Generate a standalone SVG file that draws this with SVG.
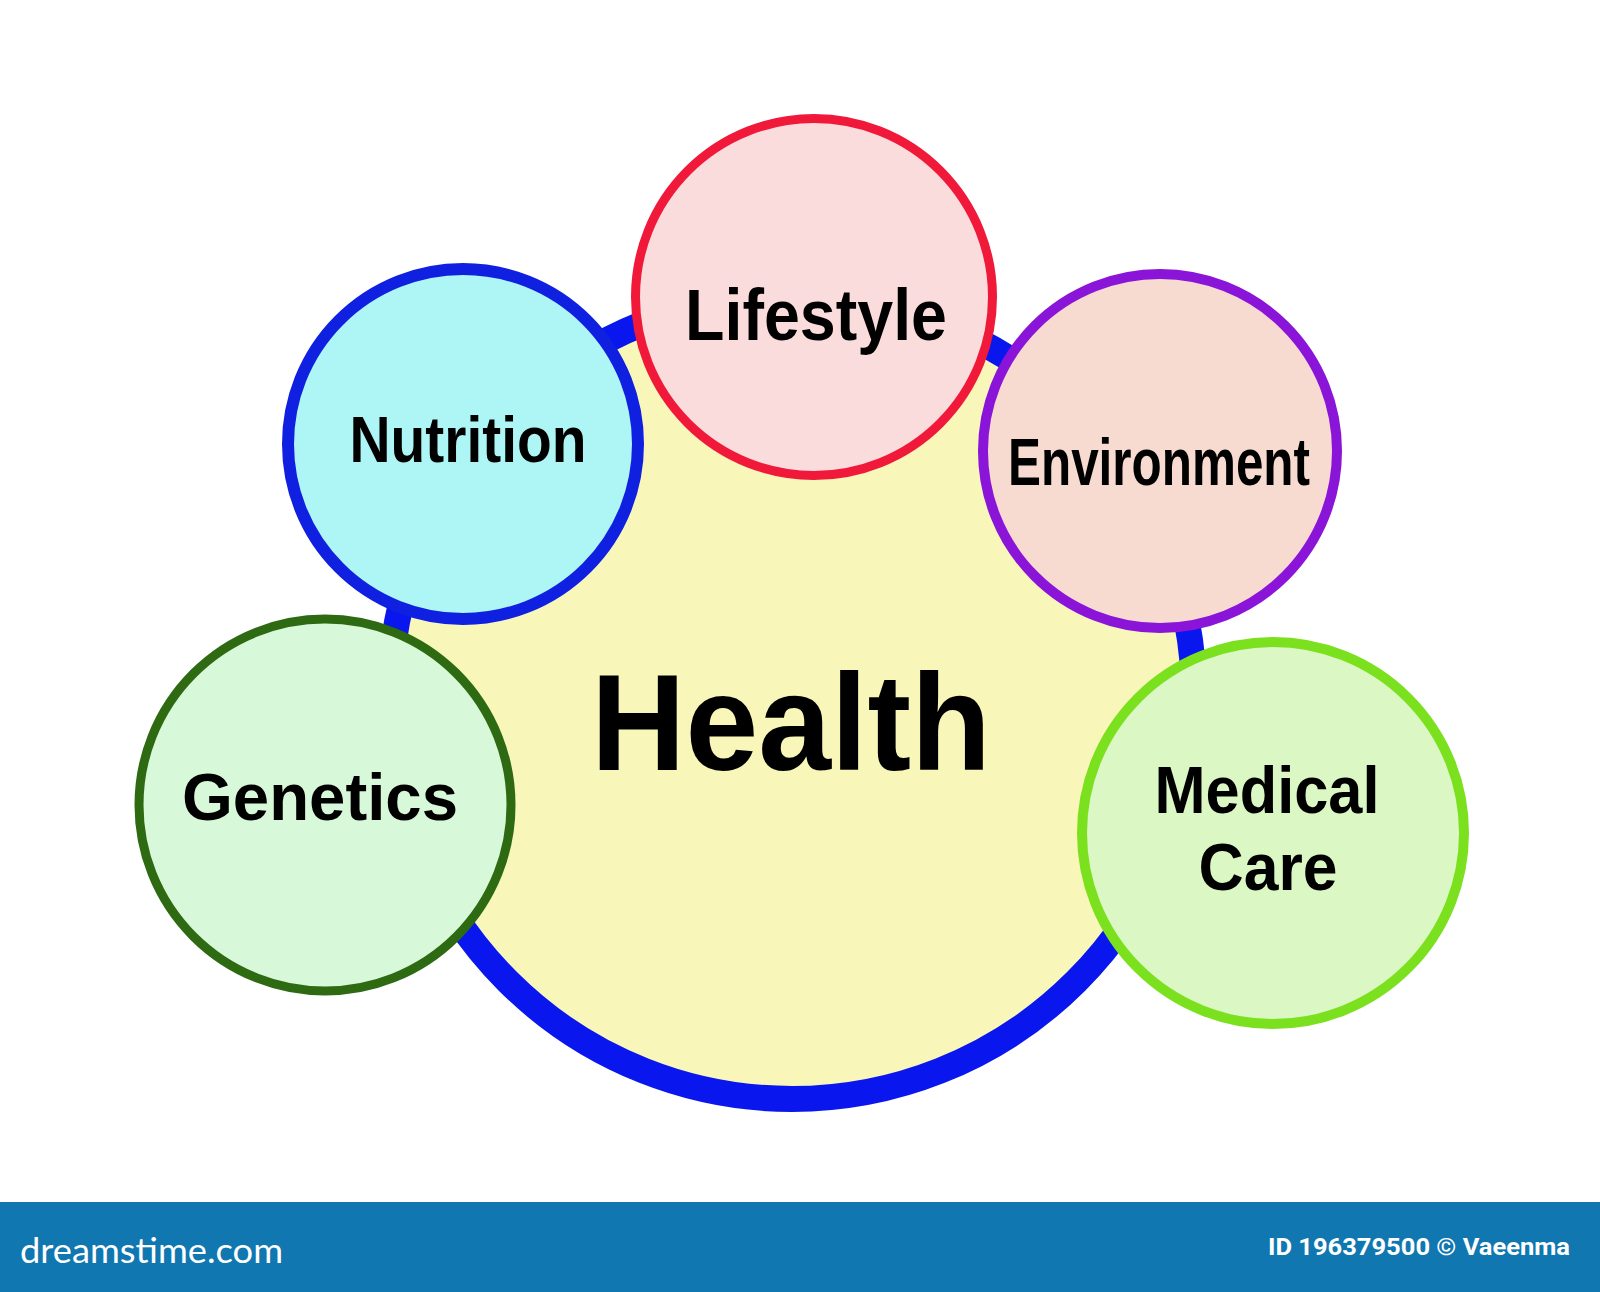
<svg xmlns="http://www.w3.org/2000/svg" width="1600" height="1292" viewBox="0 0 1600 1292">
<style>
.lbl{font-family:"Liberation Sans",Arial,sans-serif;font-weight:bold;fill:#000;text-anchor:middle}
.node{}
</style>
<rect x="0" y="0" width="1600" height="1292" fill="#ffffff"/>
<g id="health">
<circle cx="792" cy="697" r="402" fill="#F8F6B8" stroke="#0A16EE" stroke-width="26"/>
<text class="lbl" x="791" y="770" font-size="138" textLength="400" lengthAdjust="spacingAndGlyphs">Health</text>
</g>
<g id="genetics">
<circle cx="325" cy="805" r="186" fill="#D8F8DA" stroke="#2D6A12" stroke-width="9"/>
<text class="lbl" x="320" y="820" font-size="67" textLength="276" lengthAdjust="spacingAndGlyphs">Genetics</text>
</g>
<g id="nutrition">
<circle cx="463" cy="444" r="175" fill="#AEF5F5" stroke="#1020E0" stroke-width="12"/>
<text class="lbl" x="468" y="462" font-size="64" textLength="237" lengthAdjust="spacingAndGlyphs">Nutrition</text>
</g>
<g id="lifestyle">
<circle cx="814" cy="297" r="178.5" fill="#FADCDC" stroke="#F0193A" stroke-width="9"/>
<text class="lbl" x="816" y="340" font-size="72" textLength="262" lengthAdjust="spacingAndGlyphs">Lifestyle</text>
</g>
<g id="environment">
<circle cx="1160" cy="451" r="177" fill="#F7DBD0" stroke="#8A14D8" stroke-width="10"/>
<text class="lbl" x="1159" y="485" font-size="67" textLength="302" lengthAdjust="spacingAndGlyphs">Environment</text>
</g>
<g id="medical-care">
<circle cx="1273" cy="833" r="191" fill="#DAF7C4" stroke="#7BE01E" stroke-width="10"/>
<text class="lbl" x="1267" y="813" font-size="67" textLength="225" lengthAdjust="spacingAndGlyphs">Medical</text>
<text class="lbl" x="1268" y="890" font-size="67" textLength="139" lengthAdjust="spacingAndGlyphs">Care</text>
</g>
<g id="connectors"></g>
<g id="footer">
<rect x="0" y="1202" width="1600" height="90" fill="#1077B0"/>
<text x="20" y="1263" font-family="Lato,'Open Sans',sans-serif" font-size="35" fill="#ffffff" textLength="263" lengthAdjust="spacingAndGlyphs">dreamstime.com</text>
<text x="1570" y="1255" font-family="Roboto,'Liberation Sans',sans-serif" font-weight="bold" font-size="24" fill="#ffffff" text-anchor="end" textLength="302" lengthAdjust="spacingAndGlyphs">ID 196379500 © Vaeenma</text>
</g>
</svg>
